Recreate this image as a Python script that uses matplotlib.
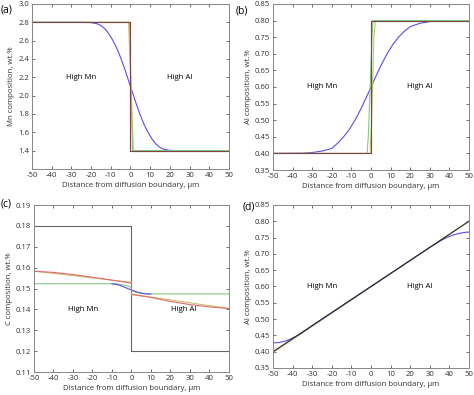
import numpy as np
import matplotlib
matplotlib.use("Agg")
import matplotlib.pyplot as plt

plt.rcParams['font.family'] = ['Open Sans', 'DejaVu Sans']

# ---- data ----
xticks = [-50, -40, -30, -20, -10, 0, 10, 20, 30, 40, 50]
xlab = 'Distance from diffusion boundary, µm'

# (a) Mn
a_step_x = [-50, 0, 0, 50]
a_step_y = [2.8, 2.8, 1.4, 1.4]
a_green_x = [-50, -0.5, 1.0, 50]
a_green_y = [2.8, 2.8, 1.4, 1.4]
a_yel_x = [-50, -1.0, 1.5, 50]
a_yel_y = [2.8, 2.8, 1.4, 1.4]
a_blue_x = [-50, -25, -20, -17, -15, -13, -11, -9, -7, -5, -3, -1, 0,
            1, 3, 5, 7, 9, 11, 13, 15, 17, 20, 25, 50]
a_blue_y = [2.8, 2.8, 2.797, 2.785, 2.765, 2.73, 2.675, 2.605, 2.52, 2.415,
            2.295, 2.165, 2.1, 2.035, 1.905, 1.785, 1.68, 1.595, 1.525, 1.47,
            1.435, 1.415, 1.403, 1.4, 1.4]

# (b) Al
b_step_x = [-50, 0, 0, 50]
b_step_y = [0.4, 0.4, 0.8, 0.8]
b_green_x = [-50, -2, -1.4, 0.5, 1.0, 50]
b_green_y = [0.4, 0.4, 0.45, 0.75, 0.8, 0.8]
b_yel_x = [-50, -0.5, 0.3, 1.5, 2.2, 50]
b_yel_y = [0.4, 0.4, 0.5, 0.75, 0.8, 0.8]
b_blue_x = [-50, -35, -30, -25, -20, -17, -14, -11, -8, -5, -2, 0,
            2, 5, 8, 11, 14, 17, 20, 25, 30, 35, 50]
b_blue_y = [0.4, 0.4008, 0.4027, 0.407, 0.415, 0.431, 0.450, 0.473, 0.502,
            0.536, 0.574, 0.6, 0.626, 0.664, 0.698, 0.727, 0.750, 0.768,
            0.782, 0.792, 0.797, 0.799, 0.8]

# (c) C
c_step_x = [-50, 0, 0, 50]
c_step_y = [0.18, 0.18, 0.12, 0.12]
c_red_x = [-50, -40, -30, -20, -10, 0, 0, 10, 20, 30, 40, 50]
c_red_y = [0.1583, 0.1577, 0.1567, 0.1554, 0.154, 0.1526,
           0.1473, 0.1457, 0.1438, 0.1423, 0.1412, 0.1404]
c_yel_x = [-50, -10, -4, 0, 0, 4, 8, 50]
c_yel_y = [0.1583, 0.154, 0.1533, 0.1530, 0.1470, 0.1466, 0.1462, 0.1404]
c_green_x = [-50, -8, -3, 0, 0, 3, 8, 50]
c_green_y = [0.1523, 0.1523, 0.1515, 0.1505, 0.1490, 0.1480, 0.1474, 0.1474]
c_blue_x = [-10, -8, -6, -4, -2, 0, 2, 4, 6, 8, 10]
c_blue_y = [0.1522, 0.152, 0.1515, 0.1508, 0.15, 0.1493, 0.1486,
            0.148, 0.1476, 0.1474, 0.1474]

# (d) Al
d_line_x = [-50, 50]
d_line_y = [0.4, 0.8]
d_yel_x = [-50, 0, 50]
d_yel_y = [0.397, 0.599, 0.801]
d_blue_x = [-50, -47, -44, -41, -38, -35, -32, -30, 30, 33, 36, 39, 42, 45, 48, 50]
d_blue_y = [0.427, 0.428, 0.432, 0.439, 0.448, 0.459, 0.4715, 0.48,
            0.72, 0.731, 0.742, 0.751, 0.758, 0.763, 0.766, 0.767]

BLACK = '#2a2a2a'
RED = '#e06a6a'
GREEN = '#86c886'
YEL = '#cbc070'
BLUE = '#5a4fe0'
LW = 0.8
FS = 5.6

fig = plt.figure(figsize=(4.74, 3.95), dpi=100)
axa = fig.add_axes([0.0675, 0.5722, 0.4156, 0.4177])
axb = fig.add_axes([0.576, 0.5696, 0.4135, 0.4203])
axc = fig.add_axes([0.0717, 0.0582, 0.4114, 0.4228])
axd = fig.add_axes([0.576, 0.0684, 0.4135, 0.4127])


def style(ax, ylim, yticks, yfmt, ylabel):
    ax.set_xlim(-50, 50)
    ax.set_ylim(*ylim)
    ax.set_xticks(xticks)
    ax.set_xticklabels([str(v) for v in xticks])
    ax.set_yticks(yticks)
    ax.set_yticklabels([yfmt.format(v) for v in yticks])
    ax.tick_params(direction='in', length=2, width=0.5, top=True, right=True,
                   labelsize=FS, colors='#333333')
    ax.tick_params(axis='x', pad=2.5)
    ax.tick_params(axis='y', pad=2)
    for s in ax.spines.values():
        s.set_color('#888888')
        s.set_linewidth(0.7)
    ax.set_xlabel(xlab, fontsize=FS, color='#333333', labelpad=2)
    ax.set_ylabel(ylabel, fontsize=FS, color='#333333', labelpad=2)


# (a)
axa.plot(a_blue_x, a_blue_y, color=BLUE, lw=LW)
axa.plot(a_yel_x, a_yel_y, color=YEL, lw=LW)
axa.plot(a_green_x, a_green_y, color=GREEN, lw=LW)
axa.plot(a_step_x, a_step_y, color=BLACK, lw=LW)
axa.plot(a_step_x, a_step_y, color=RED, lw=LW, alpha=0.45)
style(axa, (1.2, 3.0), np.round(np.arange(1.4, 3.01, 0.2), 1), '{:.1f}',
      'Mn composition, wt.%')
axa.text(-25, 2.2, 'High Mn', ha='center', va='center', fontsize=FS)
axa.text(25, 2.2, 'High Al', ha='center', va='center', fontsize=FS)

# (b)
axb.plot(b_blue_x, b_blue_y, color=BLUE, lw=LW)
axb.plot(b_yel_x, b_yel_y, color=YEL, lw=LW)
axb.plot(b_green_x, b_green_y, color=GREEN, lw=LW)
axb.plot(b_step_x, b_step_y, color=BLACK, lw=LW)
axb.plot(b_step_x, b_step_y, color=RED, lw=LW, alpha=0.45)
style(axb, (0.35, 0.85), np.round(np.arange(0.35, 0.851, 0.05), 2), '{:.2f}',
      'Al composition, wt.%')
axb.text(-25, 0.6, 'High Mn', ha='center', va='center', fontsize=FS)
axb.text(25, 0.6, 'High Al', ha='center', va='center', fontsize=FS)

# (c)
axc.plot(c_step_x, c_step_y, color='#666666', lw=LW)
axc.plot(c_green_x, c_green_y, color=GREEN, lw=LW)
axc.plot(c_blue_x, c_blue_y, color=BLUE, lw=LW)
axc.plot(c_yel_x, c_yel_y, color=YEL, lw=LW)
axc.plot(c_red_x, c_red_y, color=RED, lw=LW)
style(axc, (0.11, 0.19), np.round(np.arange(0.11, 0.191, 0.01), 2), '{:.2f}',
      'C composition, wt.%')
axc.text(-25, 0.14, 'High Mn', ha='center', va='center', fontsize=FS)
axc.text(27, 0.14, 'High Al', ha='center', va='center', fontsize=FS)

# (d)
axd.plot(d_yel_x, d_yel_y, color=YEL, lw=LW)
axd.plot(d_blue_x, d_blue_y, color=BLUE, lw=LW)
axd.plot(d_line_x, d_line_y, color=BLACK, lw=LW)
style(axd, (0.35, 0.85), np.round(np.arange(0.35, 0.851, 0.05), 2), '{:.2f}',
      'Al composition, wt.%')
axd.text(-25, 0.6, 'High Mn', ha='center', va='center', fontsize=FS)
axd.text(25, 0.6, 'High Al', ha='center', va='center', fontsize=FS)

fig.text(0.002, 0.975, '(a)', fontsize=7.5, va='center')
fig.text(0.498, 0.972, '(b)', fontsize=7.5, va='center')
fig.text(0.002, 0.483, '(c)', fontsize=7.5, va='center')
fig.text(0.512, 0.476, '(d)', fontsize=7.5, va='center')

fig.savefig('out.png', dpi=100)
